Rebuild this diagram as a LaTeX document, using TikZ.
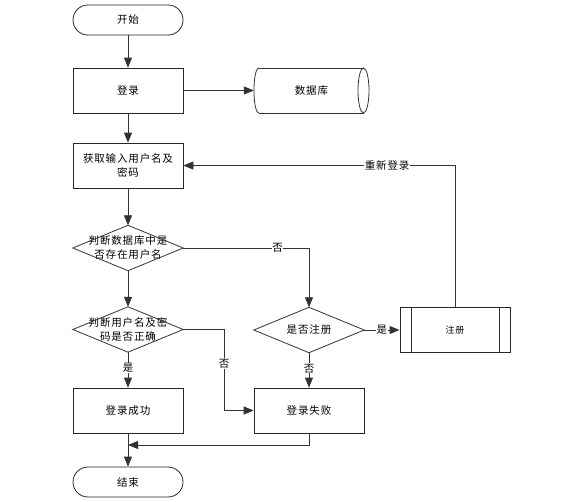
\documentclass[tikz,border=0pt]{standalone}
\usepackage{fontspec}
\newfontfamily\cjk[LetterSpace=8]{Noto Sans CJK SC}
\usetikzlibrary{arrows.meta}
\begin{document}
\begin{tikzpicture}[x=1pt,y=-1pt,
  font=\cjk\fontsize{10.5}{14}\selectfont,
  box/.style={draw=black!85, line width=0.8pt, minimum width=110pt, minimum height=45pt, inner sep=0pt, align=center},
  term/.style={box, minimum height=30pt, rounded corners=15pt},
  dia/.style={minimum width=110pt, minimum height=45pt, inner sep=0pt, align=center},
  arr/.style={draw=black!80, line width=0.8pt, -{Triangle[length=10pt,width=8pt]}},
  ln/.style={draw=black!80, line width=0.8pt},
  lbl/.style={fill=white, inner sep=0.5pt}]
\useasboundingbox (0,0) rectangle (581,501);
\node[term] (start) at (128,20) {开始};
\node[box] (login) at (128,90.5) {登录};
\node[minimum width=115pt, minimum height=45pt, inner sep=0pt] (db) at (311.5,90.5) {数据库};
\draw[ln] (259,68) -- (363.5,68);
\draw[ln] (259,113) -- (363.5,113);
\draw[ln] (363.5,90.5) ellipse [x radius=5.5, y radius=22.5];
\draw[ln] (259,68) .. controls (252.3,68) and (252.3,113) .. (259,113);
\node[box] (input) at (128,165.5) {获取输入用户名及\\密码};
\node[dia] (d1) at (128,248) {判断数据库中是\\否存在用户名};
\draw[ln] (d1.west) -- (d1.north) -- (d1.east) -- (d1.south) -- cycle;
\node[dia] (d2) at (128,329.5) {判断用户名及密\\码是否正确};
\draw[ln] (d2.west) -- (d2.north) -- (d2.east) -- (d2.south) -- cycle;
\node[dia] (d3) at (309,330) {是否注册};
\draw[ln] (d3.west) -- (d3.north) -- (d3.east) -- (d3.south) -- cycle;
\node[box, font=\cjk\fontsize{9}{11}\selectfont] (reg) at (455,330) {注册};
\draw[ln] ([xshift=11.5pt]reg.north west) -- ([xshift=11.5pt]reg.south west);
\draw[ln] ([xshift=-11.5pt]reg.north east) -- ([xshift=-11.5pt]reg.south east);
\node[box] (ok) at (128,410.5) {登录成功};
\node[box] (fail) at (309,410.5) {登录失败};
\node[term] (end) at (128,482) {结束};
\coordinate (j) at (128,445);
% connectors
\draw[arr] (start) -- (login);
\draw[arr] (login) -- (db.west);
\draw[arr] (login) -- (input);
\draw[arr] (input) -- (d1.north);
\draw[arr] (d1.south) -- (d2.north);
\draw[arr] (d1.east) -- node[lbl, pos=0.75]{否} (d1.east -| d3.north) -- (d3.north);
\draw[arr] (d3.east) -- node[lbl, pos=0.5]{是} (reg.west);
\draw[arr] (reg.north) -- (reg.north |- input.east) -- node[lbl, pos=0.25]{重新登录} (input.east);
\draw[arr] (d3.south) -- node[lbl, pos=0.45]{否} (fail.north);
\draw[arr] (d2.south) -- node[lbl, pos=0.45]{是} (ok.north);
\draw[arr] (d2.east) -- (224,329.5) -- node[lbl, pos=0.42]{否} (224,410.5) -- (fail.west);
\draw[arr] (fail.south) -- (fail.south |- j) -- (j);
\draw[arr] (ok.south) -- (end.north);
\end{tikzpicture}
\end{document}
